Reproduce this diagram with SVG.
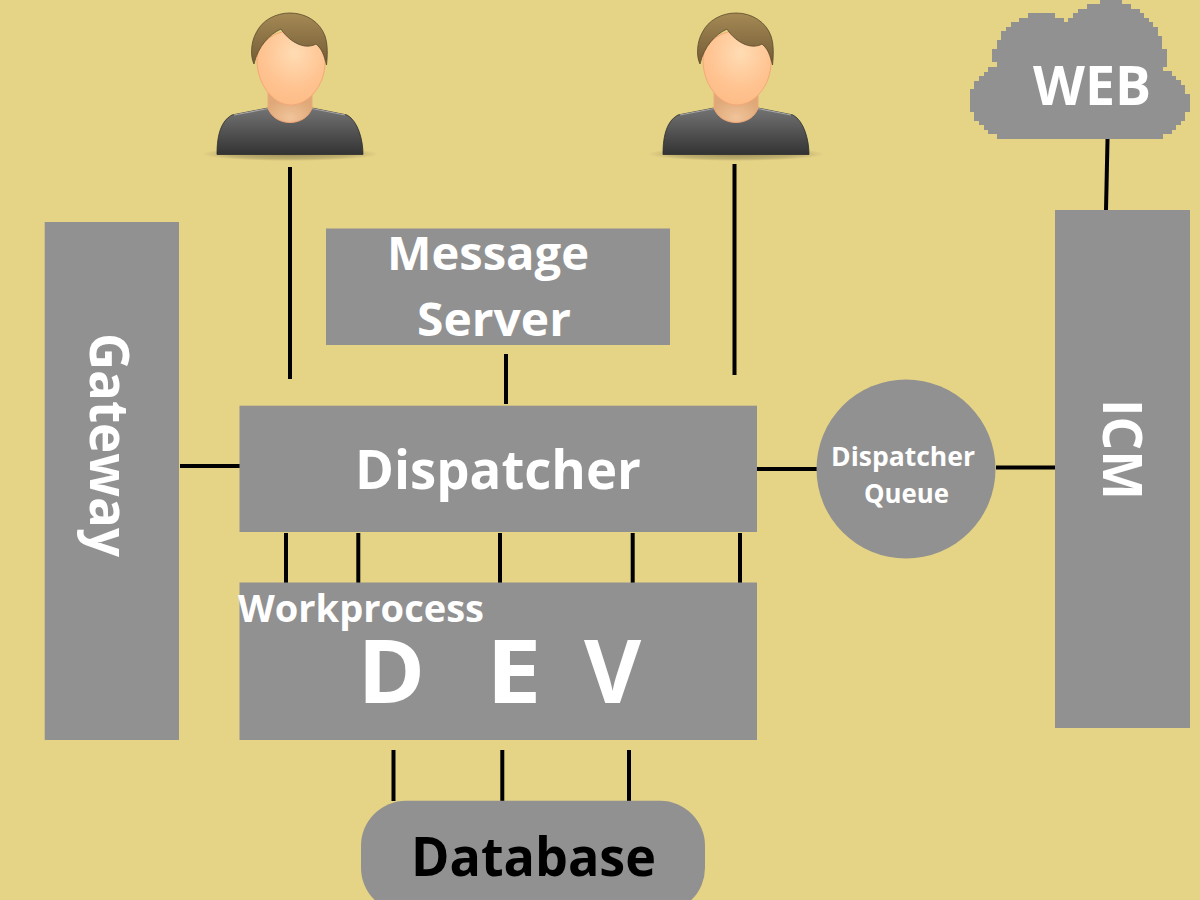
<svg xmlns="http://www.w3.org/2000/svg" width="1200" height="900" viewBox="0 0 1200 900">
<style>
.box{fill:#919191}
.c{stroke:#000;stroke-width:4;fill:none}
text{font-family:"Open Sans","Noto Sans","Liberation Sans",sans-serif;font-weight:700;fill:#fff}
</style>
<defs>
<linearGradient id="hair" x1="0" y1="0" x2="0" y2="1"><stop offset="0" stop-color="#a58a55"/><stop offset="1" stop-color="#725a35"/></linearGradient>
<radialGradient id="face" cx="0.55" cy="0.3" r="0.75"><stop offset="0" stop-color="#ffdcb4"/><stop offset="0.6" stop-color="#ffc492"/><stop offset="1" stop-color="#fdbb85"/></radialGradient>
<linearGradient id="shirt" x1="0" y1="0" x2="0" y2="1"><stop offset="0" stop-color="#747474"/><stop offset="1" stop-color="#333"/></linearGradient>
<radialGradient id="neck" cx="0.5" cy="0.85" r="0.6"><stop offset="0" stop-color="#f0c49a"/><stop offset="1" stop-color="#dfa878"/></radialGradient>
<radialGradient id="shadow"><stop offset="0" stop-color="#6b5f3a" stop-opacity="0.6"/><stop offset="0.7" stop-color="#6b5f3a" stop-opacity="0.3"/><stop offset="1" stop-color="#6b5f3a" stop-opacity="0"/></radialGradient>
<g id="person">
<ellipse cx="290" cy="154" rx="88" ry="7" fill="url(#shadow)"/>
<path d="M217 154.500C217 140 219 122 232 115L268 108L312 108L347 115C358 121 363 140 363 154.500Z" fill="url(#shirt)" stroke="#2c2c2c" stroke-width="0.800"/>
<path d="M234 115L268 108.500M312 108.500L345 115" fill="none" stroke="#a8a8a8" stroke-width="1.200"/>
<path d="M268 90L312 90L312 108C309 117 300 122.500 290 122.500C280 122.500 271 117 268 108Z" fill="url(#neck)" stroke="#f2a776" stroke-width="1"/>
<path d="M257 60C257 44 273 31 291 31C310 31 325 44 325 62C325 86 308 105 291 105C273 105 257 84 257 60Z" fill="url(#face)" stroke="#f5a878" stroke-width="1"/>
<path d="M254 64C250 56 251 42 256 33C262 20 276 13 290 13C306 13 320 22 325 36C328 45 327.500 56 326.500 65C324 55 322 49 316 44C311 47 303 47 296 43C290 40 284 34 281 29C270 34 258 46 254 64Z" fill="url(#hair)" stroke="#5c4a2b" stroke-width="0.800"/>
</g>
</defs>
<rect width="1200" height="900" fill="#e5d386"/>
<g id="connectors">
<path class="c" d="M290 167V379"/>
<path class="c" d="M734.500 164V375"/>
<path class="c" d="M1108 117L1106 210"/>
<path class="c" d="M506 354V404"/>
<path class="c" d="M180 466H240"/>
<path class="c" d="M757 469H817"/>
<path class="c" d="M996 467.500H1055"/>
<path class="c" d="M286 533V583"/>
<path class="c" d="M358.300 533V583"/>
<path class="c" d="M500 533V583"/>
<path class="c" d="M632.700 533V583"/>
<path class="c" d="M740 533V583"/>
<path class="c" d="M393.500 750V801"/>
<path class="c" d="M502.300 750V801"/>
<path class="c" d="M629 750V801"/>
</g>
<g id="user1"><use href="#person"/></g>
<g id="user2"><use href="#person" x="446"/></g>
<g id="web">
<polygon class="box" points="1100,0 1122,0 1122,4 1131,4 1131,9 1140,9 1140,13 1144,13 1144,18 1149,18 1149,22 1153,22 1153,27 1158,27 1158,36 1162,36 1162,49 1167,49 1167,67 1163,67 1163,71 1172,71 1172,76 1176,76 1176,80 1181,80 1181,85 1185,85 1185,94 1190,94 1190,112 1185,112 1185,121 1181,121 1181,125 1176,125 1176,130 1172,130 1172,134 1163,134 1163,139 997,139 997,134 988,134 988,130 984,130 984,125 979,125 979,121 974,121 974,112 970,112 970,89 974,89 974,81 979,81 979,76 984,76 984,72 988,72 988,67 997,67 997,62 992,62 992,49 997,49 997,40 1001,40 1001,31 1006,31 1006,27 1011,27 1011,22 1019,22 1019,18 1028,18 1028,13 1055,13 1055,18 1064,18 1064,22 1068,22 1068,18 1073,18 1073,13 1078,13 1078,9 1087,9 1087,4 1100,4"/>
<text x="1033" y="105" font-size="53" textLength="118" lengthAdjust="spacingAndGlyphs">WEB</text>
</g>
<g id="gateway">
<rect class="box" x="44.700" y="222" width="134.300" height="518"/>
<text transform="translate(90 333) rotate(90)" font-size="53" textLength="224" lengthAdjust="spacingAndGlyphs">Gateway</text>
</g>
<g id="message-server">
<rect class="box" x="326" y="228.500" width="344" height="116.500"/>
<text x="387" y="270" font-size="46" textLength="202" lengthAdjust="spacingAndGlyphs">Message</text>
<text x="417" y="336" font-size="46" textLength="154" lengthAdjust="spacingAndGlyphs">Server</text>
</g>
<g id="dispatcher">
<rect class="box" x="239.500" y="405.700" width="517.500" height="126.300"/>
<text x="355" y="489" font-size="53" textLength="286" lengthAdjust="spacingAndGlyphs">Dispatcher</text>
</g>
<g id="queue">
<circle class="box" cx="906" cy="469" r="89.500"/>
<text x="831" y="466" font-size="27" textLength="144" lengthAdjust="spacingAndGlyphs">Dispatcher</text>
<text x="864" y="503" font-size="27" textLength="85" lengthAdjust="spacingAndGlyphs">Queue</text>
</g>
<g id="icm">
<rect class="box" x="1055" y="210" width="135" height="518"/>
<text transform="translate(1103 399) rotate(90)" font-size="53" textLength="101" lengthAdjust="spacingAndGlyphs">ICM</text>
</g>
<g id="workprocess">
<rect class="box" x="239.500" y="582.500" width="517.500" height="157.500"/>
<text x="238" y="621.700" font-size="37" textLength="246" lengthAdjust="spacingAndGlyphs">Workprocess</text>
<text x="357.500" y="702.700" font-size="88" textLength="67.700" lengthAdjust="spacingAndGlyphs">D</text>
<text x="486" y="702.700" font-size="88" textLength="55.600" lengthAdjust="spacingAndGlyphs">E</text>
<text x="584" y="702.700" font-size="88">V</text>
</g>
<g id="database">
<rect class="box" x="361" y="800.700" width="344" height="112" rx="45" ry="45"/>
<text x="411" y="875.700" font-size="53" textLength="245" lengthAdjust="spacingAndGlyphs" style="fill:#000">Database</text>
</g>
</svg>
